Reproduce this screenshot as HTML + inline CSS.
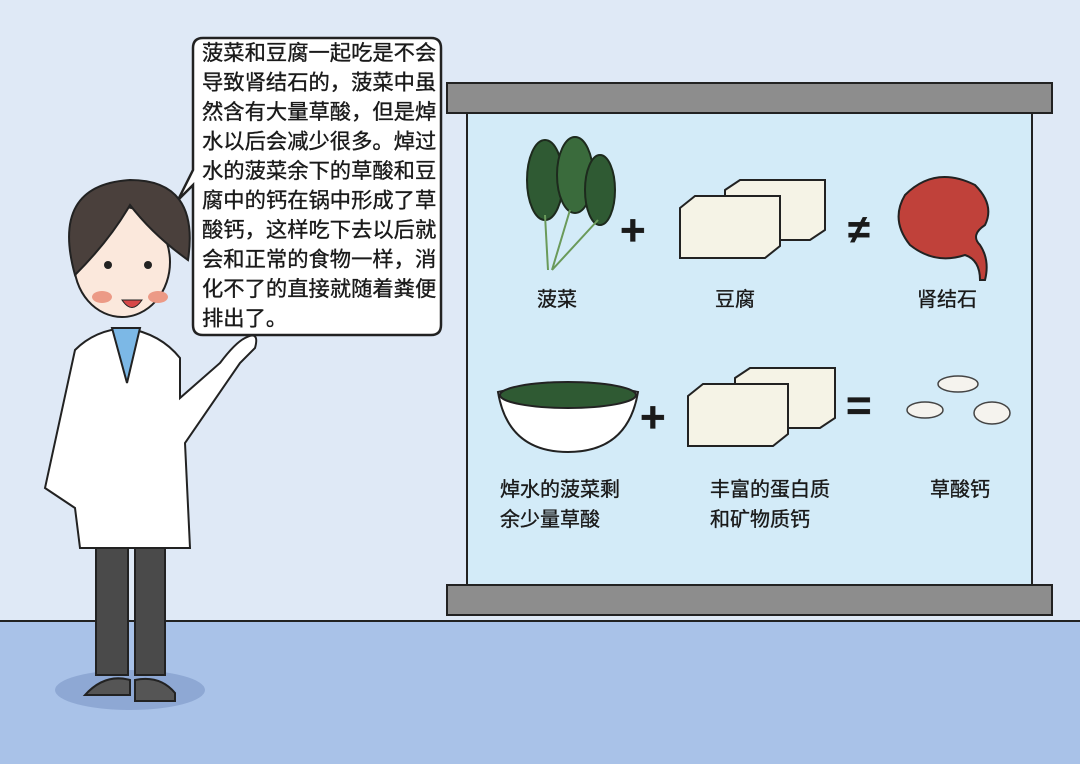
<!DOCTYPE html>
<html><head><meta charset="utf-8"><style>
body{margin:0;width:1080px;height:764px;overflow:hidden;background:#dfe9f6}
svg{display:block}
text{font-family:"Liberation Sans","Noto Sans CJK SC",sans-serif;fill:#1a1a1a;stroke:#1a1a1a;stroke-width:0.35}
</style></head><body>
<svg width="1080" height="764" viewBox="0 0 1080 764">
<rect width="1080" height="764" fill="#dfe9f6"/>
<rect y="621" width="1080" height="143" fill="#a9c2e8"/>
<line x1="0" y1="621" x2="1080" y2="621" stroke="#222" stroke-width="2"/>
<!-- board -->
<rect x="467" y="112" width="565" height="474" fill="#d3ebf8" stroke="#222" stroke-width="2"/>
<rect x="447" y="83" width="605" height="30" fill="#8d8d8d" stroke="#222" stroke-width="2"/>
<rect x="447" y="585" width="605" height="30" fill="#8d8d8d" stroke="#222" stroke-width="2"/>
<!-- spinach -->
<g stroke="#1d2a1d" stroke-width="2">
<ellipse cx="545" cy="180" rx="18" ry="40" fill="#2f5a33"/>
<ellipse cx="575" cy="175" rx="18" ry="38" fill="#3a6b3c"/>
<ellipse cx="600" cy="190" rx="15" ry="35" fill="#2f5a33"/>
<path d="M548 270 L545 215 M552 270 L570 210 M552 270 L598 220" fill="none" stroke="#6a9a5a"/>
</g>
<text x="620" y="245" font-size="44" font-weight="bold">+</text>
<!-- tofu -->
<g stroke="#222" stroke-width="2" fill="#f5f3e6">
<path d="M725 190 l15 -10 h85 v50 l-15 10 h-85z"/>
<path d="M680 208 l15 -12 h85 v50 l-15 12 h-85z"/>
</g>
<text x="848" y="243" font-size="40" font-weight="bold">≠</text>
<!-- kidney -->
<path d="M905 195 q30 -30 70 -10 q20 20 10 40 q-15 10 -5 20 q10 15 5 35 l-5 0 q0 -20 -15 -25 q-30 10 -55 -10 q-20 -25 -5 -50z" fill="#c0413a" stroke="#222" stroke-width="2"/>
<text x="537" y="306" font-size="20">菠菜</text>
<text x="715" y="306" font-size="20">豆腐</text>
<text x="917" y="306" font-size="20">肾结石</text>
<!-- bowl -->
<path d="M498 392 q70 -15 140 0 q-10 60 -70 60 q-60 0 -70 -60z" fill="#fff" stroke="#222" stroke-width="2"/>
<ellipse cx="568" cy="395" rx="68" ry="13" fill="#2f5a33" stroke="#222" stroke-width="2"/>
<text x="640" y="432" font-size="44" font-weight="bold">+</text>
<g stroke="#222" stroke-width="2" fill="#f5f3e6">
<path d="M735 378 l15 -10 h85 v50 l-15 10 h-85z"/>
<path d="M688 396 l15 -12 h85 v50 l-15 12 h-85z"/>
</g>
<text x="846" y="420" font-size="44" font-weight="bold">=</text>
<g fill="#f5f3ee" stroke="#444" stroke-width="1.5">
<ellipse cx="958" cy="384" rx="20" ry="8"/><ellipse cx="925" cy="410" rx="18" ry="8"/><ellipse cx="992" cy="413" rx="18" ry="11"/>
</g>
<text x="500" y="496" font-size="20">焯水的菠菜剩</text>
<text x="500" y="526" font-size="20">余少量草酸</text>
<text x="710" y="496" font-size="20">丰富的蛋白质</text>
<text x="710" y="526" font-size="20">和矿物质钙</text>
<text x="930" y="496" font-size="20">草酸钙</text>
<!-- bubble -->
<path d="M203 38 h228 q10 0 10 10 v277 q0 10 -10 10 h-228 q-10 0 -10 -10 v-140 l-15 15 l15 -30 v-122 q0 -10 10 -10z" fill="#fff" stroke="#222" stroke-width="2.5"/>
<g font-size="21.3">
<text x="202" y="60">菠菜和豆腐一起吃是不会</text>
<text x="202" y="89.5">导致肾结石的，菠菜中虽</text>
<text x="202" y="119">然含有大量草酸，但是焯</text>
<text x="202" y="148.5">水以后会减少很多。焯过</text>
<text x="202" y="178">水的菠菜余下的草酸和豆</text>
<text x="202" y="207.5">腐中的钙在锅中形成了草</text>
<text x="202" y="237">酸钙，这样吃下去以后就</text>
<text x="202" y="266.5">会和正常的食物一样，消</text>
<text x="202" y="296">化不了的直接就随着粪便</text>
<text x="202" y="325.5">排出了。</text>
</g>
<!-- person -->
<ellipse cx="130" cy="690" rx="75" ry="20" fill="#8ea8d4"/>
<g stroke="#222" stroke-width="2">
<rect x="96" y="540" width="32" height="135" fill="#4a4a4a"/>
<rect x="135" y="540" width="30" height="135" fill="#4a4a4a"/>
<path d="M85 695 q20 -22 45 -15 v15 h-45z" fill="#555"/>
<path d="M135 680 q25 -5 40 13 v8 h-40z" fill="#555"/>
<path d="M75 350 q20 -20 50 -22 q35 5 55 30 l0 40 l40 -35 q15 -20 25 -25 q15 -8 10 10 l-15 15 l-55 80 l5 105 h-110 l-5 -40 l-30 -20 z" fill="#fff"/>
<path d="M112 328 l15 55 l13 -55z" fill="#7cb8e6"/>
<ellipse cx="122" cy="262" rx="48" ry="55" fill="#fbe8dc"/>
<path d="M75 275 q-25 -90 55 -95 q70 0 58 80 q-35 -25 -58 -55 q-20 35 -55 70z" fill="#4a403c"/>
</g>
<circle cx="108" cy="265" r="4" fill="#222"/><circle cx="148" cy="265" r="4" fill="#222"/>
<ellipse cx="102" cy="297" rx="10" ry="6" fill="#ec9a86"/><ellipse cx="158" cy="297" rx="10" ry="6" fill="#ec9a86"/>
<path d="M122 300 q10 15 20 0z" fill="#d84848" stroke="#222"/>
</svg>
</body></html>
